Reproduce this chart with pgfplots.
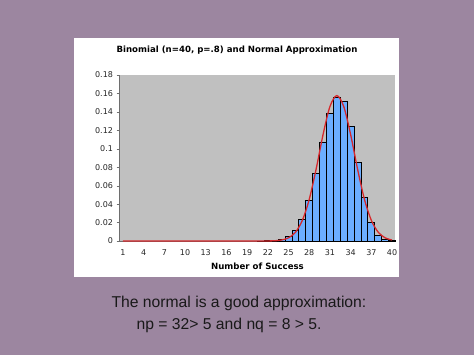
\documentclass[border=0pt]{standalone}
\usepackage{fontspec}
\setmainfont{DejaVu Sans}
\newfontfamily\arialfont{Liberation Sans}
\usepackage{pgfplots}
\pgfplotsset{compat=1.18}
\definecolor{bgpurple}{RGB}{156,134,160}
\definecolor{plotgray}{RGB}{192,192,192}
\definecolor{barblue}{RGB}{108,174,255}
\definecolor{curvered}{RGB}{214,40,44}
\definecolor{axisgray}{RGB}{110,110,110}
\begin{document}
\begin{tikzpicture}[x=1pt,y=1pt]
\useasboundingbox (0,0) rectangle (474,355);
\fill[bgpurple] (0,0) rectangle (474,355);
\fill[white] (74,78) rectangle (399,317);
\begin{axis}[
  at={(119.5pt,114pt)}, anchor=south west,
  scale only axis, width=276pt, height=166pt,
  xmin=0.5, xmax=40.5, ymin=0, ymax=0.18,
  axis background/.style={fill=plotgray},
  axis x line=bottom, axis y line=left,
  axis line style={draw=axisgray, -},
  xtick={1,4,...,40},
  minor xtick={0.5,1.5,...,40.5},
  ytick={0,0.02,...,0.18},
  yticklabel style={/pgf/number format/fixed, /pgf/number format/precision=2},
  /pgf/number format/assume math mode=true,
  tick align=outside,
  major tick length=3pt, minor tick length=3pt,
  tick style={draw=axisgray},
  minor tick style={draw=axisgray},
  xtick style={draw=none},
  ticklabel style={font=\fontsize{8}{9.5}\selectfont, text=black!85},
  xticklabel style={yshift=-2.5pt},
  xlabel={\bfseries Number of Success},
  xlabel style={font=\fontsize{8.6}{10}\selectfont, yshift=0pt},
  clip=false,
]
\addplot[ybar, bar width=6.9pt, fill=barblue, draw=black, line width=0.8pt] coordinates {
(21,0.0000634) (22,0.000219) (23,0.000686) (24,0.001944) (25,0.004977)
(26,0.011486) (27,0.02382) (28,0.04424) (29,0.07323) (30,0.10741)
(31,0.13859) (32,0.15591) (33,0.15119) (34,0.12451) (35,0.08538)
(36,0.04743) (37,0.02051) (38,0.006477) (39,0.001329) (40,0.000133)
};
\addplot[curvered, line width=1.3pt, smooth, tension=0.5, mark=none] coordinates {
(1,0) (2,0) (3,0) (4,0) (5,0) (6,0) (7,0) (8,0) (9,0) (10,0)
(11,0) (12,0) (13,0) (14,0) (15,0) (16,0) (17,0) (18,0) (19,0) (20,0)
(21,0.0000124) (22,0.0000638) (23,0.0002813) (24,0.0010626) (25,0.003430)
(26,0.009472) (27,0.02237) (28,0.04518) (29,0.07807) (30,0.11537)
(31,0.14585) (32,0.15770) (33,0.14585) (34,0.11537) (35,0.07807)
(36,0.04518) (37,0.02237) (38,0.009472) (39,0.003430) (40,0.0010626)
};
\end{axis}
\node[font=\fontsize{8.6}{10}\selectfont\bfseries] at (237,305) {Binomial (n=40, p=.8) and Normal Approximation};
\node[anchor=base west, font=\arialfont\fontsize{15.7}{18}\selectfont, text=black!90] at (108,47) {The normal is a good approximation:};
\node[anchor=base west, font=\arialfont\fontsize{15.7}{18}\selectfont, text=black!90] at (133,25) {np = 32> 5 and nq = 8 > 5.};
\end{tikzpicture}
\end{document}
